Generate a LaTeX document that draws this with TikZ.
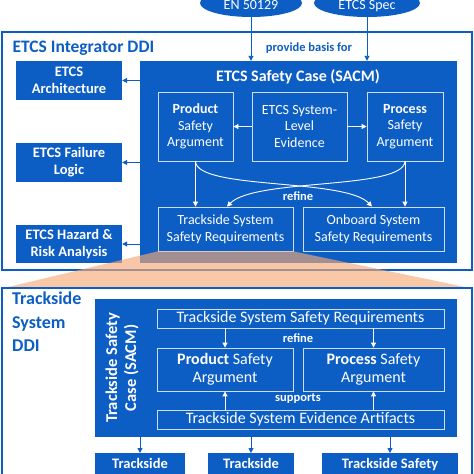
\documentclass[tikz,border=0pt]{standalone}
\usepackage{fontspec}
\setmainfont{Carlito}
\usepackage{tikz}
\usetikzlibrary{arrows.meta,positioning,shapes.geometric}
\definecolor{ddiblue}{RGB}{12,94,196}
\definecolor{zoomorange}{RGB}{244,170,120}
\tikzset{
	frame/.style = {draw = ddiblue, line width = 1.6pt, fill = white},
	bluebox/.style = {fill = ddiblue, draw = none, text = white, align = center, inner sep = 2pt},
	innerbox/.style = {bluebox, draw = white!80!ddiblue, line width = 0.8pt},
	spec/.style = {ellipse, fill = ddiblue, text = white, inner sep = 0pt, text height = 13pt, text depth = 0pt, font = \fontsize{14}{16}\selectfont},
	body/.style = {font = \fontsize{14}{16.7}\selectfont},
	bodylow/.style = {font = \fontsize{16}{18}\selectfont},
	heavy/.style = {font = \fontsize{14.5}{17}\bfseries},
	outbox/.style = {bluebox, heavy, anchor = north, text height = 10pt, text depth = 30pt, inner ysep = 5pt},
	tag/.style = {text = white, font = \fontsize{12.5}{14}\bfseries, inner sep = 1pt},
	flow/.style = {-{Triangle[length = 5pt, width = 5pt]}, line width = 0.9pt, white},
	feed/.style = {-{Triangle[length = 5pt, width = 5pt]}, line width = 0.9pt, ddiblue}
}
\begin{document}
\begin{tikzpicture}[x = 1pt, y = -1pt]
	\useasboundingbox (0,0) rectangle (474,474);

	% upper part: integrator
	\node (ENsp) [spec, minimum width = 102, minimum height = 28] at (251,3) {EN 50129};
	\node (ETsp) [spec, minimum width = 106, minimum height = 28] at (367,3) {ETCS Spec};
	\node (INT) [frame, minimum width = 470, minimum height = 238] at (237,151) {};
	\node (INTtitle) [anchor = west, text = ddiblue, font = \fontsize{17.5}{20}\bfseries] at (9,48) {ETCS Integrator DDI};
	\node (basis) [text = ddiblue, font = \fontsize{12.5}{14}\bfseries] at (309,48) {provide basis for};

	\node (SC) [bluebox, minimum width = 317, minimum height = 202] at (298.5,162) {};
	\node (SCtitle) [text = white, font = \fontsize{16}{18}\bfseries] at (298,77) {ETCS Safety Case (SACM)};
	\draw [feed] (ENsp.south) -- (ENsp.south |- SC.north);
	\draw [feed] (ETsp.south) -- (ETsp.south |- SC.north);

	\node (Arch) [bluebox, heavy, minimum width = 106, minimum height = 39] at (69,80.5) {ETCS\\Architecture};
	\node (Fail) [bluebox, heavy, minimum width = 106, minimum height = 39] at (69,162.5) {ETCS Failure\\Logic};
	\node (Haz) [bluebox, heavy, minimum width = 106, minimum height = 38] at (69,244) {ETCS Hazard \&\\Risk Analysis};
	\foreach \b in {Arch, Fail, Haz}
		\draw [feed] (\b.east -| SC.west) -- (\b.east);

	\node (Prod) [innerbox, body, minimum width = 75, minimum height = 69] at (195.5,126.5) {\textbf{Product}\\Safety\\Argument};
	\node (Evid) [innerbox, body, minimum width = 95, minimum height = 69] at (299.5,126.5) {ETCS System-\\Level\\Evidence};
	\node (Proc) [innerbox, body, minimum width = 76, minimum height = 69] at (405,126.5) {\textbf{Process}\\Safety\\Argument};
	\draw [flow] (Evid.west) -- (Prod.east);
	\draw [flow] (Evid.east) -- (Proc.west);

	\node (TSR) [innerbox, body, minimum width = 135, minimum height = 44] at (225.5,229) {Trackside System\\Safety Requirements};
	\node (OSR) [innerbox, body, minimum width = 141, minimum height = 44] at (373.5,229) {Onboard System\\Safety Requirements};
	\draw [flow] (Prod.south) -- (Prod.south |- TSR.north);
	\draw [flow] (Proc.south) -- (Proc.south |- OSR.north);
	\coordinate (OSRin) at ([xshift = -1.5pt]OSR.north);
	\coordinate (TSRin) at ([xshift = 1.5pt]TSR.north);
	\draw [flow] (Prod.south) .. controls (197,190) and (345,178) .. (OSRin);
	\draw [flow] (Proc.south) .. controls (403,190) and (255,178) .. (TSRin);
	\node (refine) [tag] at (298,196) {refine};

	% zoom wedge
	\coordinate (wedgeL) at (4,288);
	\coordinate (wedgeR) at (470,288);
	\fill [zoomorange, fill opacity = 0.65] (TSR.south west) -- (TSR.south east) -- (wedgeR) -- (wedgeL) -- cycle;

	% lower part: trackside system
	\node (TDDI) [frame, fill = none, minimum width = 470, minimum height = 200] at (237,388) {};
	\node (TDDItitle) [anchor = north west, align = left, text = ddiblue, font = \fontsize{18}{23.5}\bfseries, inner sep = 0pt] at (12,292) {Trackside\\System\\DDI};

	\node (TSC) [bluebox, minimum width = 362, minimum height = 138] at (276,368) {};
	\node (TSCtitle) [text = white, align = center, rotate = 90, font = \fontsize{16.5}{19}\bfseries] at (122,368) {Trackside Safety\\Case (SACM)};

	\node (TR) [innerbox, bodylow, minimum width = 287, minimum height = 19, inner sep = 0pt] at (300.5,318.5) {Trackside System Safety Requirements};
	\node (PSA) [innerbox, bodylow, minimum width = 136, minimum height = 43] at (225,369.5) {\textbf{Product} Safety\\Argument};
	\node (PrSA) [innerbox, bodylow, minimum width = 141, minimum height = 43] at (373.5,369.5) {\textbf{Process} Safety\\Argument};
	\node (TEA) [innerbox, bodylow, minimum width = 287, minimum height = 19, inner sep = 0pt] at (300.5,419.5) {Trackside System Evidence Artifacts};
	\draw [flow] (PSA.north |- TR.south) -- (PSA.north);
	\draw [flow] (PrSA.north |- TR.south) -- (PrSA.north);
	\draw [flow] (PSA.south |- TEA.north) -- (PSA.south);
	\draw [flow] (PrSA.south |- TEA.north) -- (PrSA.south);
	\node (refineT) [tag] at (298,338) {refine};
	\node (supports) [tag] at (298,399) {supports};

	\node (Out1) [outbox, minimum width = 90] at (140,453) {Trackside};
	\node (Out2) [outbox, minimum width = 86] at (251,453) {Trackside};
	\node (Out3) [outbox, minimum width = 136] at (390,453) {Trackside Safety};
	\foreach \o in {Out1, Out2, Out3}
		\draw [feed] (\o.north |- TSC.south) -- (\o.north);
\end{tikzpicture}
\end{document}
